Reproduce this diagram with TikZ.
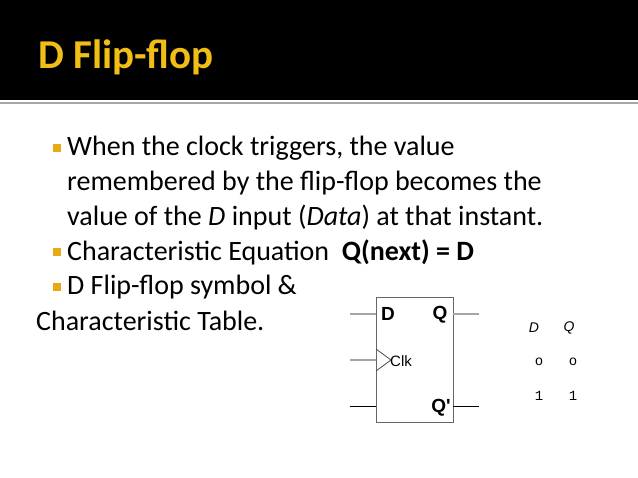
\documentclass[tikz,border=0pt]{standalone}
\usepackage{fontspec}
\setmainfont{Carlito}
\newfontfamily\arial{Liberation Sans}
\newfontfamily\cour{Liberation Mono}
\definecolor{ttl}{RGB}{240,190,20}
\definecolor{bul}{RGB}{230,170,20}
\definecolor{wg}{RGB}{165,165,165}
\begin{document}
\begin{tikzpicture}[x=1pt,y=-1pt,
  body/.style={anchor=west,inner sep=0pt,font=\fontsize{28}{30}\selectfont},
  bsq/.style={fill=bul,minimum size=8pt,inner sep=0pt},
  lab/.style={inner sep=0pt,font=\arial\bfseries\fontsize{19}{20}\selectfont},
  tab/.style={inner sep=0pt,font=\arial\fontsize{14}{15}\selectfont},
  num/.style={inner sep=0pt,font=\cour\fontsize{14}{15}\selectfont}]
\useasboundingbox (0,0) rectangle (638,478);
\fill[black] (0,0) rectangle (638,100);
\draw[gray!70,line width=1.5pt] (0,103) -- (638,103);
\node[anchor=west,inner sep=0pt,text=ttl,font=\bfseries\fontsize{41}{43}\selectfont] (title) at (38,57) {D Flip-flop};
\node[bsq] (b1) at (57,148) {};
\node[body] (t1) at (67,148) {When the clock triggers, the value};
\node[body] (t2) at (67,183) {remembered by the flip-flop becomes the};
\node[body] (t3) at (67,218) {value of the \textit{D} input (\textit{Data}) at that instant.};
\node[bsq] (b2) at (57,252) {};
\node[body] (t4) at (67,252) {Characteristic Equation \ \textbf{Q(next) = D}};
\node[bsq] (b3) at (57,287) {};
\node[body] (t5) at (67,287) {D Flip-flop symbol \&};
\node[body] (t6) at (36,321) {Characteristic Table.};
% flip-flop
\node[draw=gray!80!black,minimum width=77pt,minimum height=125pt,inner sep=0pt,anchor=north west] (ff) at (376,297) {};
\coordinate (dL) at (350,314); \coordinate (dR) at (376,314);
\coordinate (qL) at (453,314); \coordinate (qR) at (479,314);
\coordinate (cL) at (350,360); \coordinate (cR) at (376,360);
\coordinate (rL) at (350,407); \coordinate (rR) at (376,407);
\coordinate (pL) at (453,407); \coordinate (pR) at (479,407);
\draw[wg,line width=1.6pt] (dL) -- (dR);
\draw[wg,line width=1.6pt] (qL) -- (qR);
\draw[wg,line width=1.6pt] (cL) -- (cR);
\draw[black,line width=1pt] (rL) -- (rR);
\draw[black,line width=1pt] (pL) -- (pR);
\draw[gray!60!black,line width=0.8pt] (376,349) -- (391,360) -- (376,371);
\node[lab] (D) at (388,314) {D};
\node[lab] (Q) at (440,315) {Q};
\node[lab,anchor=west,font=\arial\fontsize{15}{16}\selectfont] (clk) at (390,361) {Clk};
\node[lab] (Qp) at (441,408) {Q'};
% table
\node[tab] (hD) at (534,328) {\textit{D}};
\node[tab] (hQ) at (569,328) {\textit{Q}};
\node[num] (r0a) at (539,362) {o};
\node[num] (r0b) at (573,362) {o};
\node[num] (r1a) at (539,396) {1};
\node[num] (r1b) at (573,396) {1};
\end{tikzpicture}
\end{document}
